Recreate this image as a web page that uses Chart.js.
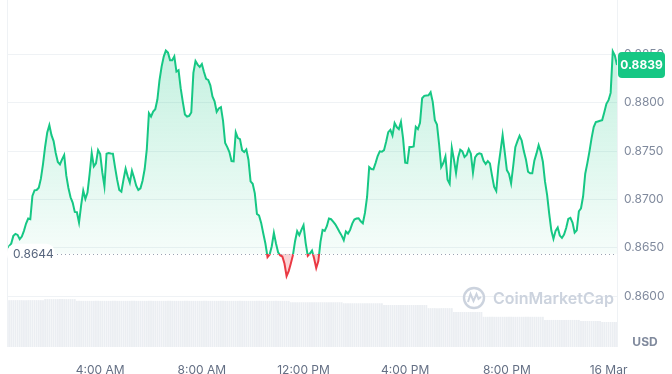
<!DOCTYPE html>
<html>
<head>
<meta charset="utf-8">
<script src="https://cdn.jsdelivr.net/npm/chart.js@4.4.1/dist/chart.umd.min.js"></script>
<style>
  html, body { margin: 0; padding: 0; background: #fff; }
  #wrap { width: 672px; height: 374px; position: relative; }
</style>
</head>
<body>
<div id="wrap"><canvas id="chart"></canvas></div>
<script>
// 24h price, one value every 5 minutes starting 00:20
const basePrice = 0.8644;
const lastPriceLabel = '0.8839';
const startMinute = 20;
const stepMinutes = 5;

const prices = [
  0.86440, 0.86517, 0.86545, 0.86624, 0.86645, 0.86634, 0.86590, 0.86617, 0.86676, 0.86751,
  0.86803, 0.86796, 0.87036, 0.87095, 0.87098, 0.87122, 0.87215, 0.87366, 0.87545, 0.87693,
  0.87768, 0.87665, 0.87603, 0.87480, 0.87387, 0.87363, 0.87414, 0.87459, 0.87246, 0.87119,
  0.87023, 0.86968, 0.86871, 0.86868, 0.86761, 0.86940, 0.87091, 0.87005, 0.87071, 0.87263,
  0.87480, 0.87342, 0.87373, 0.87510, 0.87469, 0.87280, 0.87136, 0.87473, 0.87480, 0.87476,
  0.87473, 0.87335, 0.87205, 0.87098, 0.87081, 0.87205, 0.87318, 0.87239, 0.87174, 0.87297,
  0.87225, 0.87143, 0.87098, 0.87115, 0.87194, 0.87315, 0.87517, 0.87892, 0.87857, 0.87909,
  0.87933, 0.88033, 0.88232, 0.88373, 0.88476, 0.88538, 0.88517, 0.88438, 0.88438, 0.88479,
  0.88321, 0.88335, 0.88150, 0.88009, 0.87878, 0.87857, 0.87864, 0.87899, 0.88308, 0.88431,
  0.88394, 0.88369, 0.88400, 0.88318, 0.88246, 0.88235, 0.88180, 0.88064, 0.88015, 0.87906,
  0.87940, 0.87954, 0.87813, 0.87583, 0.87541, 0.87490, 0.87397, 0.87394, 0.87693, 0.87634,
  0.87624, 0.87510, 0.87490, 0.87517, 0.87411, 0.87187, 0.87163, 0.87064, 0.86851, 0.86834,
  0.86758, 0.86648, 0.86545, 0.86404, 0.86432, 0.86517, 0.86655, 0.86545, 0.86455, 0.86421,
  0.86411, 0.86339, 0.86208, 0.86260, 0.86339, 0.86425, 0.86569, 0.86672, 0.86631, 0.86686,
  0.86734, 0.86552, 0.86418, 0.86442, 0.86473, 0.86390, 0.86291, 0.86363, 0.86562, 0.86686,
  0.86676, 0.86724, 0.86803, 0.86796, 0.86772, 0.86744, 0.86706, 0.86665, 0.86627, 0.86579,
  0.86669, 0.86648, 0.86686, 0.86751, 0.86792, 0.86803, 0.86806, 0.86775, 0.86755, 0.86861,
  0.87026, 0.87335, 0.87315, 0.87311, 0.87376, 0.87449, 0.87497, 0.87493, 0.87510, 0.87596,
  0.87696, 0.87720, 0.87662, 0.87789, 0.87748, 0.87727, 0.87802, 0.87631, 0.87380, 0.87376,
  0.87541, 0.87541, 0.87548, 0.87751, 0.87727, 0.87792, 0.88046, 0.88071, 0.88074, 0.88077,
  0.88108, 0.88009, 0.87820, 0.87775, 0.87572, 0.87335, 0.87376, 0.87445, 0.87205, 0.87163,
  0.87534, 0.87414, 0.87273, 0.87435, 0.87514, 0.87497, 0.87438, 0.87459, 0.87521, 0.87473,
  0.87277, 0.87435, 0.87466, 0.87476, 0.87469, 0.87400, 0.87366, 0.87397, 0.87373, 0.87246,
  0.87129, 0.87088, 0.87339, 0.87500, 0.87665, 0.87490, 0.87304, 0.87266, 0.87167, 0.87346,
  0.87541, 0.87603, 0.87658, 0.87610, 0.87500, 0.87414, 0.87287, 0.87270, 0.87270, 0.87404,
  0.87476, 0.87562, 0.87493, 0.87390, 0.87187, 0.87047, 0.86851, 0.86679, 0.86593, 0.86676,
  0.86710, 0.86627, 0.86603, 0.86638, 0.86706, 0.86799, 0.86810, 0.86761, 0.86658, 0.86682,
  0.86878, 0.86909, 0.87033, 0.87266, 0.87376, 0.87497, 0.87634, 0.87748, 0.87799, 0.87806,
  0.87813, 0.87820, 0.87902, 0.87988, 0.88026, 0.88101, 0.88530, 0.88486, 0.88390
];

// volume (relative units, hidden axis 0..100)
const volumes = [
  13.5, 13.5, 13.5, 13.5, 13.5, 13.5, 13.5, 13.5, 13.5, 13.5,
  13.5, 13.5, 13.5, 13.5, 13.5, 13.5, 13.5, 13.5, 13.8, 13.8,
  13.8, 13.8, 13.8, 13.8, 13.8, 13.8, 13.8, 13.8, 13.8, 13.8,
  13.8, 13.8, 13.8, 13.3, 13.3, 13.3, 13.3, 13.3, 13.3, 13.3,
  13.3, 13.3, 13.3, 13.3, 13.3, 13.3, 13.3, 13.3, 13.3, 13.3,
  13.3, 13.3, 13.3, 13.3, 13.3, 13.3, 13.3, 13.3, 13.3, 13.3,
  13.3, 13.3, 13.3, 13.3, 13.3, 13.3, 13.3, 13.3, 13.3, 13.3,
  13.3, 13.3, 13.3, 13.3, 13.3, 13.3, 13.3, 13.3, 13.3, 13.3,
  13.3, 13.3, 13.3, 13.3, 13.3, 13.3, 13.3, 13.3, 13.3, 13.3,
  13.3, 13.3, 13.3, 13.3, 13.3, 13.3, 13.3, 13.3, 13.3, 13.3,
  13.3, 13.3, 13.3, 13.3, 13.3, 13.3, 13.3, 13.3, 13.3, 13.3,
  13.3, 13.3, 13.3, 13.3, 13.3, 13.3, 13.3, 13.3, 13.3, 13.3,
  13.3, 13.3, 13.3, 13.3, 13.3, 13.3, 13.3, 13.3, 13.3, 13.3,
  13.3, 13.3, 13.3, 13.3, 12.9, 12.9, 12.9, 12.9, 12.9, 12.9,
  12.9, 12.9, 12.9, 12.9, 12.9, 12.9, 12.9, 12.9, 12.9, 12.9,
  12.9, 12.9, 12.9, 12.9, 12.9, 12.9, 12.9, 12.9, 12.9, 12.6,
  12.6, 12.6, 12.6, 12.6, 12.6, 12.6, 12.6, 12.6, 12.6, 12.6,
  12.6, 12.6, 12.6, 12.6, 12.6, 12.6, 12.6, 12.6, 12.1, 12.1,
  12.1, 12.1, 12.1, 12.1, 12.1, 12.1, 12.1, 12.1, 12.1, 12.1,
  12.1, 12.1, 12.1, 12.1, 12.1, 12.1, 12.1, 12.1, 12.1, 11.2,
  11.2, 11.2, 11.2, 11.2, 11.2, 11.2, 11.2, 11.2, 11.2, 11.2,
  11.2, 10.1, 10.1, 10.1, 10.1, 10.1, 10.1, 10.1, 10.1, 10.1,
  10.1, 10.1, 10.1, 10.1, 10.1, 8.7, 8.7, 8.7, 8.7, 8.7,
  8.7, 8.7, 8.7, 8.7, 8.7, 8.7, 8.7, 8.7, 8.7, 8.7,
  8.7, 8.7, 8.7, 8.7, 8.7, 8.7, 8.7, 8.7, 8.7, 8.7,
  8.7, 8.7, 8.7, 8.7, 7.8, 7.8, 7.8, 7.8, 7.8, 7.8,
  7.8, 7.8, 7.8, 7.8, 7.8, 7.8, 7.8, 7.8, 7.8, 7.8,
  7.8, 7.5, 7.5, 7.5, 7.5, 7.5, 7.5, 7.5, 7.5, 7.5,
  7.5, 7.2, 7.2, 7.2, 7.2, 7.2, 7.2, 7.2, 7.2
];

const yTicks = [0.8600, 0.8650, 0.8700, 0.8750, 0.8800, 0.8850];
const xTickMinutes = [240, 480, 720, 960, 1200, 1440];
const xTickLabels = ['4:00 AM', '8:00 AM', '12:00 PM', '4:00 PM', '8:00 PM', '16 Mar'];

const green = '#16c784';
const red = '#ea3943';
const axisColor = '#808a9d';
const timeColor = '#646f84';

const times = prices.map((p, i) => startMinute + i * stepMinutes);
const priceData = prices.map((p, i) => ({ x: times[i], y: p }));
const volumeData = volumes.map((v, i) => ({ x: times[i], y: v }));

function baseStop(chart) {
  const area = chart.chartArea;
  const yb = chart.scales.y.getPixelForValue(basePrice);
  return Math.min(Math.max((yb - area.top) / (area.bottom - area.top), 0), 1);
}

function strokeColor(ctx) {
  const chart = ctx.chart;
  if (!chart.chartArea) return green;
  const a = chart.chartArea;
  const s = baseStop(chart);
  const g = chart.ctx.createLinearGradient(0, a.top, 0, a.bottom);
  g.addColorStop(0, green);
  g.addColorStop(s, green);
  g.addColorStop(s, red);
  g.addColorStop(1, red);
  return g;
}

function fillColor(ctx) {
  const chart = ctx.chart;
  if (!chart.chartArea) return 'rgba(22,199,132,0.15)';
  const a = chart.chartArea;
  const s = baseStop(chart);
  const g = chart.ctx.createLinearGradient(0, a.top, 0, a.bottom);
  g.addColorStop(0, 'rgba(22,199,132,0.30)');
  g.addColorStop(s, 'rgba(22,199,132,0.04)');
  g.addColorStop(s, 'rgba(234,57,67,0.22)');
  g.addColorStop(1, 'rgba(234,57,67,0.22)');
  return g;
}

function roundRect(c, x, y, w, h, r) {
  c.beginPath();
  c.moveTo(x + r, y);
  c.arcTo(x + w, y, x + w, y + h, r);
  c.arcTo(x + w, y + h, x, y + h, r);
  c.arcTo(x, y + h, x, y, r);
  c.arcTo(x, y, x + w, y, r);
  c.closePath();
}

const overlay = {
  id: 'overlay',
  afterDatasetsDraw(chart) {
    const c = chart.ctx;
    c.save();
    // watermark
    const cx = 474, cy = 298;
    c.strokeStyle = '#ccd3de';
    c.lineWidth = 2.4;
    c.beginPath();
    c.arc(cx, cy, 10, 0, Math.PI * 2);
    c.stroke();
    c.beginPath();
    c.lineWidth = 2;
    c.moveTo(cx - 6, cy + 4);
    c.lineTo(cx - 3.5, cy - 4);
    c.lineTo(cx - 0.5, cy + 3);
    c.lineTo(cx + 2.5, cy - 4);
    c.lineTo(cx + 4.5, cy + 1);
    c.lineTo(cx + 7, cy - 1);
    c.stroke();
    c.fillStyle = '#ccd3de';
    c.font = '600 16px Inter';
    c.textBaseline = 'middle';
    c.textAlign = 'left';
    c.fillText('CoinMarketCap', 493, cy + 1);
    c.restore();
  },
  afterDraw(chart) {
    const c = chart.ctx;
    const a = chart.chartArea;
    const yb = chart.scales.y.getPixelForValue(basePrice);
    const yl = chart.scales.y.getPixelForValue(prices[prices.length - 1]);
    c.save();
    // plot borders
    c.strokeStyle = '#eff2f5';
    c.lineWidth = 1;
    c.beginPath();
    c.moveTo(a.left + 0.5, a.top);
    c.lineTo(a.left + 0.5, a.bottom);
    c.moveTo(a.right + 0.5, a.top);
    c.lineTo(a.right + 0.5, a.bottom);
    c.stroke();
    // dotted baseline
    c.strokeStyle = '#9aa3b2';
    c.setLineDash([1, 3]);
    c.beginPath();
    c.moveTo(a.left + 50, Math.round(yb) + 0.5);
    c.lineTo(a.right, Math.round(yb) + 0.5);
    c.stroke();
    c.setLineDash([]);
    // baseline pill
    c.fillStyle = '#ffffff';
    roundRect(c, a.left, yb - 10, 48, 20, 9);
    c.fill();
    c.fillStyle = '#58667e';
    c.font = '12px Inter';
    c.textBaseline = 'middle';
    c.textAlign = 'left';
    c.fillText(basePrice.toFixed(4), a.left + 6, yb + 1);
    // last price tag
    c.fillStyle = green;
    roundRect(c, a.right + 1, yl - 13, 47, 26, 4);
    c.fill();
    c.fillStyle = '#ffffff';
    c.font = 'bold 12px Inter';
    c.textAlign = 'center';
    c.fillText(lastPriceLabel, a.right + 24.5, yl + 0.5);
    // currency
    c.fillStyle = axisColor;
    c.font = 'bold 12px Inter';
    c.fillText('USD', 645, 342);
    c.restore();
  }
};

new Chart(document.getElementById('chart'), {
  type: 'line',
  data: {
    datasets: [
      {
        type: 'line',
        data: priceData,
        yAxisID: 'y',
        borderColor: strokeColor,
        backgroundColor: fillColor,
        borderWidth: 2,
        pointRadius: 0,
        tension: 0,
        fill: { target: { value: basePrice } },
        order: 1
      },
      {
        type: 'bar',
        data: volumeData,
        yAxisID: 'yv',
        backgroundColor: '#ebeef2',
        barPercentage: 0.85,
        categoryPercentage: 1,
        order: 2
      }
    ]
  },
  options: {
    responsive: true,
    maintainAspectRatio: false,
    animation: false,
    layout: { padding: { left: 7, top: 0, right: 0, bottom: 0 } },
    plugins: { legend: { display: false }, tooltip: { enabled: false } },
    scales: {
      x: {
        type: 'linear',
        min: times[0],
        max: times[times.length - 1],
        offset: false,
        grid: { display: false },
        border: { display: false },
        afterBuildTicks: s => { s.ticks = xTickMinutes.map(v => ({ value: v })); },
        ticks: {
          autoSkip: false,
          maxRotation: 0,
          padding: 8,
          color: timeColor,
          font: { family: 'Inter', size: 12 },
          callback: (v, i) => xTickLabels[i]
        },
        afterFit: s => { s.height = 27; s.paddingLeft = 0; s.paddingRight = 0; }
      },
      y: {
        position: 'right',
        min: 0.85476,
        max: 0.89061,
        grid: { color: '#eff2f5', drawTicks: false },
        border: { display: false },
        afterBuildTicks: s => { s.ticks = yTicks.map(v => ({ value: v })); },
        ticks: {
          padding: 7,
          color: axisColor,
          font: { family: 'Inter', size: 12 },
          callback: v => v.toFixed(4)
        },
        afterFit: s => { s.width = 55; s.paddingTop = 0; s.paddingBottom = 0; }
      },
      yv: { display: false, min: 0, max: 100 }
    }
  },
  plugins: [overlay]
});
</script>
</body>
</html>
